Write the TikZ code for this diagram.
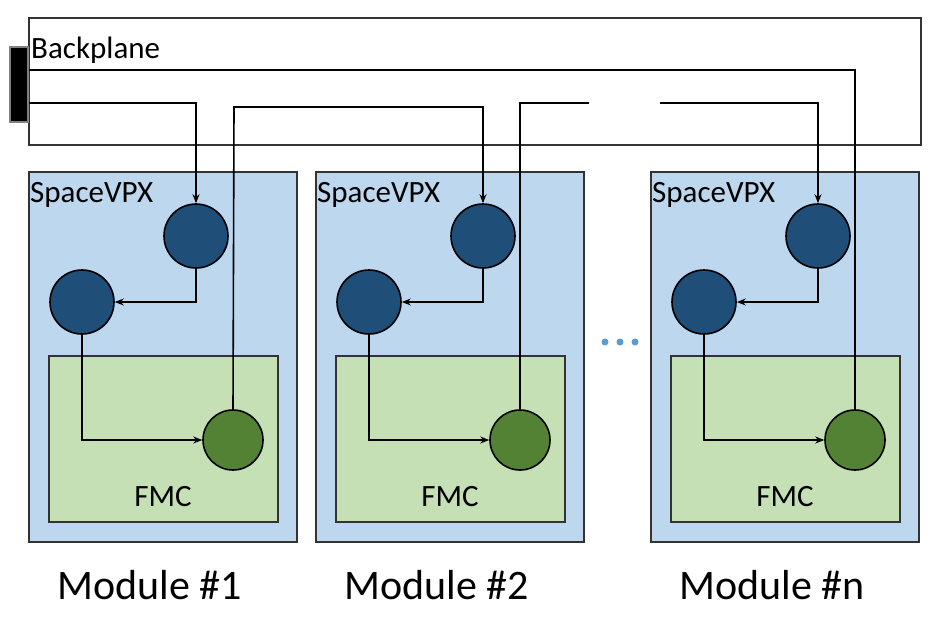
\documentclass[tikz,border=0pt]{standalone}
\usepackage{fontspec}
\setmainfont{Carlito}
\usetikzlibrary{arrows.meta}
\definecolor{vpxblue}{RGB}{189,215,238}
\definecolor{fmcgreen}{RGB}{197,224,180}
\definecolor{dkblue}{RGB}{31,78,121}
\definecolor{dkgreen}{RGB}{84,130,53}
\definecolor{dotblue}{RGB}{91,155,213}
\tikzset{
  box/.style={draw=black!80,line width=1.8pt},
  blue node/.style={circle,draw=black,line width=1.6pt,fill=dkblue,minimum size=64pt,inner sep=0pt},
  green node/.style={circle,draw=black,line width=1.6pt,fill=dkgreen,minimum size=60pt,inner sep=0pt},
  wire/.style={line width=1.6pt},
  arr/.style={wire,-{Stealth[length=9pt,width=7pt]}}
}
\begin{document}
\begin{tikzpicture}[x=1pt,y=-1pt,font=\fontsize{31}{36}\selectfont]
\useasboundingbox (0,0) rectangle (949,635);
% backplane
\draw[box,line width=2.4pt] (29,18) rectangle (921,145);
\fill[black] (10,47) rectangle (28,122);
\draw[gray,line width=1.5pt] (10,47) rectangle (28,122);
\node[anchor=north west,inner sep=0pt] (bp) at (31,37) {Backplane};
% modules
\foreach \m/\dx/\lab in {1/0/\#1, 2/287/\#2, n/622/\#n}{
  \begin{scope}[xshift=\dx]
    \draw[box,fill=vpxblue] (29,172) rectangle (297,542);
    \draw[box,fill=fmcgreen] (49,356) rectangle (278,522);
    \node[anchor=north west,inner sep=0pt] at (30,182) {SpaceVPX};
    \node at (163,497) {FMC};
    \node[font=\fontsize{42}{48}\selectfont] at (150,585) {Module \lab};
    \node[blue node] (t\m) at (196,236) {};
    \node[blue node] (l\m) at (82,302) {};
    \node[green node] (g\m) at (233,440) {};
    \draw[arr] (t\m.south) |- (l\m.east);
    \draw[arr] (l\m.south) |- (g\m.west);
  \end{scope}
}
% backplane wiring
\coordinate (a1) at (29,103);
\coordinate (a2) at (196,103);
\draw[arr] (a1) -- (a2) -- (t1.north);
\coordinate (b1) at (234,107);
\coordinate (b2) at (483,107);
\draw[arr] (g1.north) -- (b1) -- (b2) -- (t2.north);
\coordinate (c1) at (520,103);
\coordinate (c2) at (589,103);
\draw[wire] (g2.north) -- (c1) -- (c2);
\coordinate (d1) at (660,103);
\coordinate (d2) at (818,103);
\draw[arr] (d1) -- (d2) -- (tn.north);
\coordinate (e1) at (29,70);
\coordinate (e2) at (855,70);
\draw[wire] (e1) -- (e2) -- (gn.north);
% dots
\foreach \x in {605,620,635} \fill[dotblue] (\x,342) circle (3.5pt);
\end{tikzpicture}
\end{document}
